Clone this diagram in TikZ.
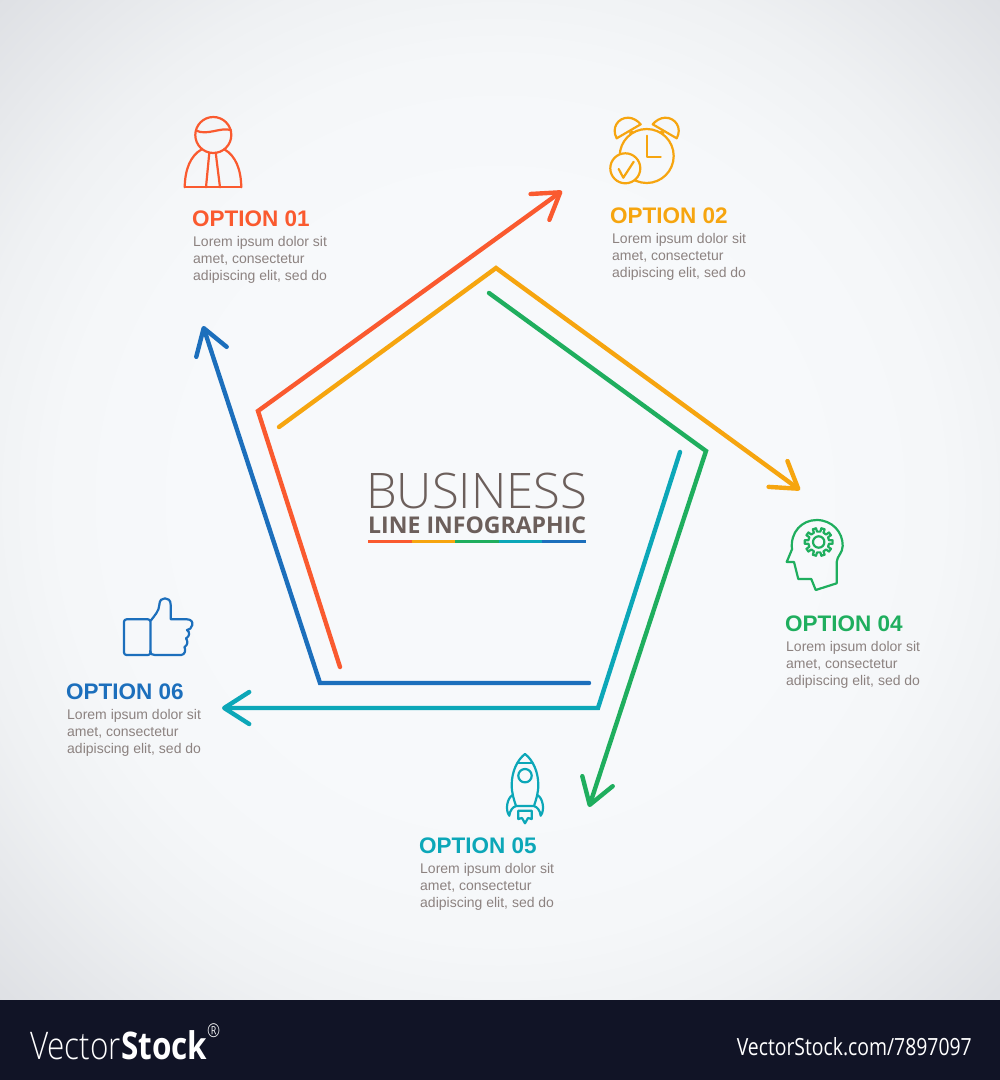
\documentclass[tikz,border=0pt]{standalone}
\usepackage{fontspec}
\usepackage{graphicx}
\usetikzlibrary{arrows.meta}
\setmainfont{Liberation Sans}
\newfontfamily\titlelight{Open Sans Light}
\newfontfamily\titlebold{Open Sans}
\definecolor{cRed}{HTML}{FA5A2F}
\definecolor{cOrange}{HTML}{F6A50F}
\definecolor{cGreen}{HTML}{1FAE5E}
\definecolor{cTeal}{HTML}{0CA7B8}
\definecolor{cBlue}{HTML}{1C6FBC}
\definecolor{cBody}{HTML}{8C8280}
\definecolor{cTitle}{HTML}{6C5F5B}
\definecolor{cBand}{HTML}{111426}
\definecolor{bgA}{HTML}{F7F9FB}
\definecolor{bgB}{HTML}{F5F7F9}
\definecolor{bgC}{HTML}{EFF1F3}
\definecolor{bgD}{HTML}{DEE0E4}
\pgfdeclareradialshading{bgshade}{\pgfpoint{0bp}{0bp}}{color(0bp)=(bgA); color(15bp)=(bgA); color(22bp)=(bgB); color(27bp)=(bgC); color(35.5bp)=(bgD); color(50bp)=(bgD)}
\tikzset{
  flow/.style={line width=4.4pt,line cap=round,line join=miter,-{Straight Barb[length=25pt,width=32pt,round,line width=4.4pt]}},
  icon/.style={line width=2.2pt,line cap=round,line join=round},
  head/.style={anchor=west,inner sep=0pt,font=\fontsize{22.5}{26}\selectfont\bfseries},
  body/.style={anchor=north west,inner sep=0pt,align=left,text=cBody,font=\fontsize{14}{17}\selectfont},
}
\begin{document}
\begin{tikzpicture}[x=1pt,y=-1pt]
\useasboundingbox (0,0) rectangle (1000,1080);
\shade[shading=bgshade] (0,0) rectangle (1000,1000);
\fill[cBand] (0,1000) rectangle (1000,1080);
% connector points
\coordinate (r1) at (340,667); \coordinate (r2) at (258,411); \coordinate (r3) at (562,191);
\coordinate (o1) at (279,427); \coordinate (o2) at (496,268); \coordinate (o3) at (800,490);
\coordinate (g1) at (489,293); \coordinate (g2) at (706,451); \coordinate (g3) at (589,807);
\coordinate (t1) at (680,452); \coordinate (t2) at (598,708); \coordinate (t3) at (222,708);
\coordinate (b1) at (589,683); \coordinate (b2) at (320,683); \coordinate (b3) at (203,326);
\draw[flow,cRed] (r1) -- (r2) -- (r3);
\draw[flow,cOrange] (o1) -- (o2) -- (o3);
\draw[flow,cGreen] (g1) -- (g2) -- (g3);
\draw[flow,cTeal] (t1) -- (t2) -- (t3);
\draw[flow,cBlue] (b1) -- (b2) -- (b3);
% centre title
\node[anchor=west,inner sep=0pt,text=cTitle] (title) at (366,491) {\titlelight\fontsize{49}{52}\selectfont BUSINESS};
\node[anchor=base west,inner sep=0pt,text=cTitle] (subtitle) at (368,533) {\resizebox{218pt}{!}{\titlebold\fontsize{23}{26}\selectfont\bfseries LINE INFOGRAPHIC}};
\fill[cRed] (368,540) rectangle (411.6,543);
\fill[cOrange] (411.6,540) rectangle (455.2,543);
\fill[cGreen] (455.2,540) rectangle (498.8,543);
\fill[cTeal] (498.8,540) rectangle (542.4,543);
\fill[cBlue] (542.4,540) rectangle (586,543);
% option texts
\node[head,text=cRed] (h1) at (192,219) {OPTION 01};
\node[body] (t01) at (193,236) {Lorem ipsum dolor sit\\amet, consectetur\\adipiscing elit, sed do};
\node[head,text=cOrange] (h2) at (610,216) {OPTION 02};
\node[body] (t02) at (612,233) {Lorem ipsum dolor sit\\amet, consectetur\\adipiscing elit, sed do};
\node[head,text=cGreen] (h4) at (785,624) {OPTION 04};
\node[body] (t04) at (786,641) {Lorem ipsum dolor sit\\amet, consectetur\\adipiscing elit, sed do};
\node[head,text=cTeal] (h5) at (419,846) {OPTION 05};
\node[body] (t05) at (420,863) {Lorem ipsum dolor sit\\amet, consectetur\\adipiscing elit, sed do};
\node[head,text=cBlue] (h6) at (66,692) {OPTION 06};
\node[body] (t06) at (67,709) {Lorem ipsum dolor sit\\amet, consectetur\\adipiscing elit, sed do};
% person icon
\begin{scope}[icon,draw=cRed]
\draw (213.3,135) circle[radius=18pt];
\draw (196,130.5) .. controls (207,136) and (220,127) .. (231,130);
\draw (184.7,187.3) .. controls (185,170) and (190,156) .. (201.7,149.3);
\draw (241.3,187.3) .. controls (241,170) and (236,156) .. (224.3,149.3);
\draw (184.7,187.3) -- (241.3,187.3);
\draw (209.3,152.7) -- (206,187.3);
\draw (215.7,152.7) -- (220,187.3);
\draw (209.3,152.7) -- (215.7,152.7);
\end{scope}
% clock icon
\begin{scope}[icon,draw=cOrange]
\draw (646.7,156) circle[radius=27pt];
\draw (646.7,135.7) -- (646.7,156.7) -- (660.7,156.7);
\draw (616.7,138.3) .. controls (611,128) and (618,117.5) .. (628.3,117.7) .. controls (633,117.7) and (638,121) .. (640.7,124.3) -- cycle;
\draw (676.7,138.3) .. controls (682.4,128) and (675.4,117.5) .. (665.1,117.7) .. controls (660.4,117.7) and (655.4,121) .. (652.7,124.3) -- cycle;
\draw (630,133) -- (632.5,131.5);
\draw (663.5,133) -- (661,131.5);
\filldraw[fill=bgA] (625.3,168.3) circle[radius=15pt];
\draw (618.7,169) -- (623.3,177.7) -- (633.7,161.7);
\end{scope}
% head icon
\begin{scope}[icon,draw=cGreen]
\draw (836.7,583.3) -- (815.7,590) -- (811.3,579) -- (798.3,579) -- (794,562) -- (786.7,562) -- (792,549.3)
  .. controls (790,532) and (802,520) .. (816.7,520)
  .. controls (832,520) and (843,532) .. (842.7,546)
  .. controls (842.7,553) and (837,556) .. (836.7,562) -- cycle;
\draw (818.7,542) circle[radius=5.7pt];
\begin{scope}[shift={(818.7,542)}]
\draw (-9:10.5) \foreach \a in {0,36,...,324}{ -- (\a-9:10.5) -- (\a-7:14) -- (\a+7:14) -- (\a+9:10.5) } -- cycle;
\end{scope}
\end{scope}
% rocket icon
\begin{scope}[icon,draw=cTeal]
\draw (525,754) .. controls (517,760) and (511.7,772) .. (511.7,785) .. controls (511.7,793) and (514,800) .. (516,806) -- (534,806) .. controls (536,800) and (538.3,793) .. (538.3,785) .. controls (538.3,772) and (533,760) .. (525,754) -- cycle;
\draw (518.5,763.3) -- (531.5,763.3);
\draw (525,775.7) circle[radius=6.7pt];
\draw (512.7,795) .. controls (507,798) and (505,810) .. (509.3,815.7) .. controls (510,810) and (513,807) .. (516,806);
\draw (537.3,795) .. controls (543,798) and (545,810) .. (540.7,815.7) .. controls (540,810) and (537,807) .. (534,806);
\draw (518.3,810.7) -- (518.3,819) -- (522,818) -- (525,823.3) -- (528,818) -- (531.7,819) -- (531.7,810.7) -- cycle;
\end{scope}
% thumb icon
\begin{scope}[icon,draw=cBlue]
\draw[rounded corners=2.5pt] (124,619.3) rectangle (150.5,655);
\draw (150.7,620.7) .. controls (155,615) and (159,611) .. (159.3,605)
  .. controls (159.5,600) and (162,598.3) .. (165,598.3)
  .. controls (168,598.3) and (170.7,600) .. (170.7,605)
  -- (170.7,619.3) -- (187,619.3)
  .. controls (191,619.3) and (193,622) .. (192.3,625)
  .. controls (192,628) and (189,630) .. (187,630)
  .. controls (190,632) and (190,636) .. (186,638.5)
  .. controls (188,641) and (188,645) .. (184.5,647)
  .. controls (186,650) and (185,655) .. (181,655)
  -- (155,655) .. controls (152,655) and (150,654) .. (150,651);
\end{scope}
% footer
\node[anchor=west,inner sep=0pt,text=white] (logo) at (30,1042) {\resizebox{190pt}{36pt}{\titlelight Vector{\titlebold\bfseries Stock}\raisebox{1.1ex}{\tiny\textregistered}}};
\node[anchor=east,inner sep=0pt,text=white] (ref) at (972,1046.5) {\resizebox{235pt}{18pt}{\titlebold VectorStock.com/7897097}};
\end{tikzpicture}
\end{document}
